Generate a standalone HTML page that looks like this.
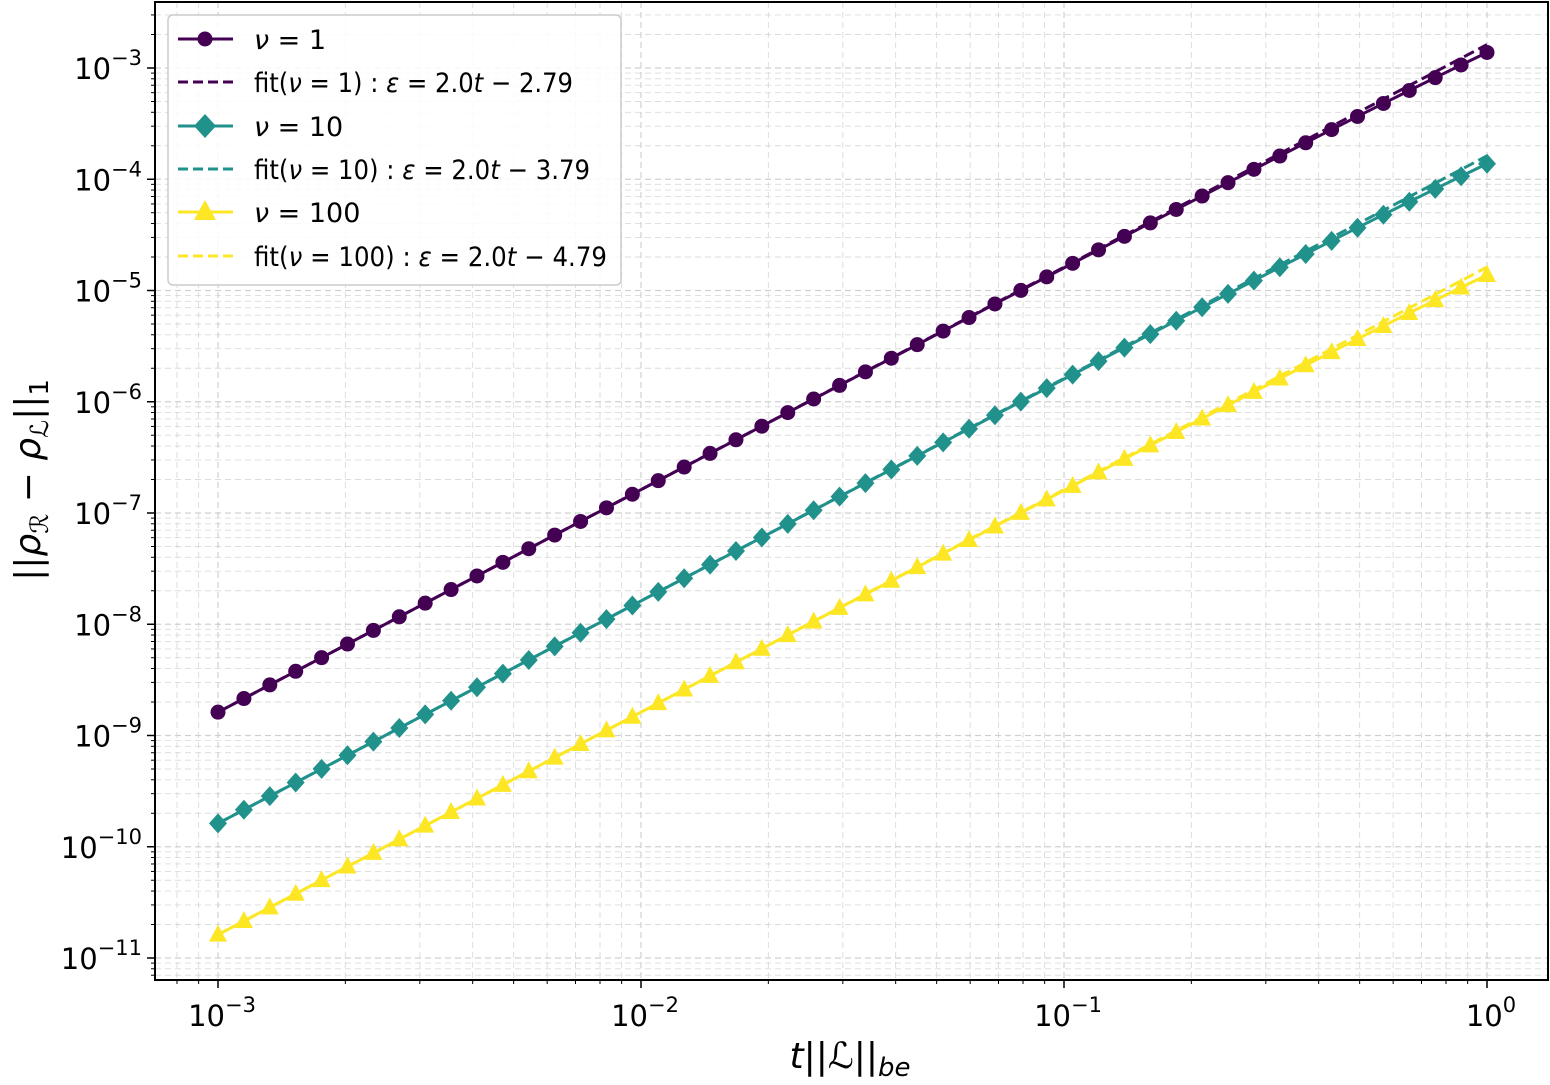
<!DOCTYPE html>
<html><head><meta charset="utf-8"><style>
body{margin:0;background:#fff;width:1550px;height:1085px;overflow:hidden}
svg{display:block;font-family:"DejaVu Sans","Liberation Sans",sans-serif}
</style></head><body>
<svg id="s" width="1550" height="1085" xmlns="http://www.w3.org/2000/svg"></svg>
<script>
const s=document.getElementById('s');
const X=v=>218+(Math.log10(v)+3)*423;
const Y=v=>68-(Math.log10(v)+3)*111.25;
const L=155,R=1548,T=2,B=980;
let h='';
for(let d=-4;d<=0;d++)for(let k=1;k<10;k++){const v=k*Math.pow(10,d);const x=X(v);if(x<L||x>R)continue;
 h+=`<line x1="${x}" y1="${T}" x2="${x}" y2="${B}" stroke="#ccc" stroke-width="${k==1?1.2:0.9}" stroke-dasharray="6,4" opacity="${k==1?0.9:0.7}"/>`;
 h+=`<line x1="${x}" y1="${B}" x2="${x}" y2="${B+(k==1?8:4)}" stroke="#000" stroke-width="${k==1?1.5:1}"/>`;}
for(let d=-12;d<=-2;d++)for(let k=1;k<10;k++){const v=k*Math.pow(10,d);const y=Y(v);if(y<T||y>B)continue;
 h+=`<line x1="${L}" y1="${y}" x2="${R}" y2="${y}" stroke="#ccc" stroke-width="${k==1?1.2:0.9}" stroke-dasharray="6,4" opacity="${k==1?0.9:0.7}"/>`;
 h+=`<line x1="${L}" y1="${y}" x2="${L-(k==1?8:4)}" y2="${y}" stroke="#000" stroke-width="${k==1?1.5:1}"/>`;}
const cols=['#440154','#21918c','#fde725'];
const N=50;
for(let s2=0;s2<3;s2++){
 const c=Math.pow(10,-2.79-s2);
 const pts=[];for(let i=0;i<N;i++){const t=Math.pow(10,-3+3*i/(N-1));pts.push([X(t),Y(c*t*t*(1-0.15*t))]);}
 h+=`<line x1="${X(1e-3)}" y1="${Y(c*1e-6)}" x2="${X(1)}" y2="${Y(c)}" stroke="${cols[s2]}" stroke-width="3" stroke-dasharray="11,5"/>`;
 h+=`<polyline points="${pts.map(p=>p.join(',')).join(' ')}" fill="none" stroke="${cols[s2]}" stroke-width="3"/>`;
 for(const [x,y] of pts){
  if(s2==0)h+=`<circle cx="${x}" cy="${y}" r="7.5" fill="${cols[0]}"/>`;
  else if(s2==1)h+=`<polygon points="${x},${y-10} ${x+9},${y} ${x},${y+10} ${x-9},${y}" fill="${cols[1]}"/>`;
  else h+=`<polygon points="${x},${y-10} ${x+9},${y+7} ${x-9},${y+7}" fill="${cols[2]}"/>`;
 }
}
h+=`<rect x="${L}" y="${T}" width="${R-L}" height="${B-T}" fill="none" stroke="#000" stroke-width="2"/>`;
const xl=[[-3,218],[-2,641],[-1,1064],[0,1487]];
for(const [e,x] of xl)h+=`<text x="${x+4}" y="1026" font-size="29" text-anchor="middle">10<tspan dy="-14" font-size="21">${e<0?'−'+(-e):e}</tspan></text>`;
for(let e=-3;e>=-11;e--){const y=Y(Math.pow(10,e));h+=`<text x="142" y="${y+11}" font-size="29" text-anchor="end">10<tspan dy="-14" font-size="21">−${-e}</tspan></text>`;}
h+=`<text x="850" y="1068" font-size="36" text-anchor="middle" font-style="italic">t||ℒ||<tspan font-size="26" dy="8">be</tspan></text>`;
h+=`<text transform="translate(40,480) rotate(-90)" font-size="36" text-anchor="middle" font-style="italic">||ρ<tspan font-size="25" dy="8">ℛ</tspan><tspan dy="-8" font-style="normal"> − </tspan><tspan>ρ</tspan><tspan font-size="25" dy="8">ℒ</tspan><tspan dy="-8" font-style="normal">||</tspan><tspan font-size="26" dy="8" font-style="normal">1</tspan></text>`;
h+=`<rect x="168" y="15" width="453" height="270" rx="5" fill="#fff" fill-opacity="0.85" stroke="#ccc" stroke-width="1.5"/>`;
const I=t=>`<tspan font-style="italic">${t}</tspan>`;
const labs=[`${I('ν')} = 1`,`fit(${I('ν')} = 1) : ${I('ε')} = 2.0${I('t')} − 2.79`,`${I('ν')} = 10`,`fit(${I('ν')} = 10) : ${I('ε')} = 2.0${I('t')} − 3.79`,`${I('ν')} = 100`,`fit(${I('ν')} = 100) : ${I('ε')} = 2.0${I('t')} − 4.79`];
const lw=[null,319,null,336,null,353];
const ly=[39,82,126,169,212,256];
for(let i=0;i<6;i++){const c=cols[i>>1],y=ly[i];
 if(i%2==0){h+=`<line x1="178" y1="${y}" x2="233" y2="${y}" stroke="${c}" stroke-width="3"/>`;
  if(i==0)h+=`<circle cx="205" cy="${y}" r="7.5" fill="${c}"/>`;
  else if(i==2)h+=`<polygon points="205,${y-12} 216,${y} 205,${y+12} 194,${y}" fill="${c}"/>`;
  else h+=`<polygon points="205,${y-12} 216,${y+8} 194,${y+8}" fill="${c}"/>`;}
 else h+=`<line x1="178" y1="${y}" x2="233" y2="${y}" stroke="${c}" stroke-width="3" stroke-dasharray="10,5"/>`;
 h+=`<text x="254" y="${y+10}" font-size="27" ${lw[i]?`textLength="${lw[i]}" lengthAdjust="spacingAndGlyphs"`:''}>${labs[i]}</text>`;}
s.innerHTML=h;
</script>
</body></html>
